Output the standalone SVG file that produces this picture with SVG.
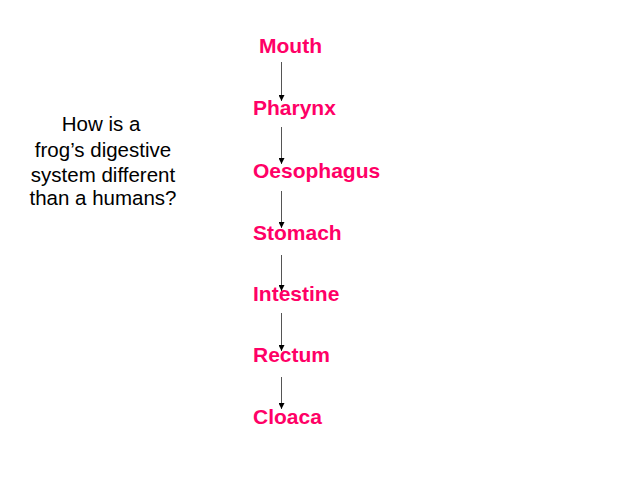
<svg xmlns="http://www.w3.org/2000/svg" width="638" height="478" viewBox="0 0 638 478">
<style>
.s{font-family:"Liberation Sans",Arial,sans-serif;font-weight:bold;font-size:21px;fill:#ff0066}
.q{font-family:"Liberation Sans",Arial,sans-serif;font-size:20.5px;fill:#000;text-anchor:middle}
.c{stroke:#555;stroke-width:1;fill:none;marker-end:url(#ah)}
</style>
<defs>
<marker id="ah" viewBox="0 0 8 8" refX="8" refY="4" markerWidth="6" markerHeight="6" markerUnits="userSpaceOnUse" orient="auto">
<path d="M0,0 L8,4 L0,8 z" fill="#000"/>
</marker>
</defs>
<rect width="638" height="478" fill="#fff"/>
<g id="question">
<text class="q" x="101" y="131">How is a</text>
<text class="q" x="103" y="157">frog’s digestive</text>
<text class="q" x="103" y="182">system different</text>
<text class="q" x="103" y="205">than a humans?</text>
</g>
<g id="mouth"><text class="s" x="259" y="53">Mouth</text></g>
<g id="pharynx"><text class="s" x="253" y="115">Pharynx</text></g>
<g id="oesophagus"><text class="s" x="253" y="178">Oesophagus</text></g>
<g id="stomach"><text class="s" x="253" y="240">Stomach</text></g>
<g id="intestine"><text class="s" x="253" y="301">Intestine</text></g>
<g id="rectum"><text class="s" x="253" y="362">Rectum</text></g>
<g id="cloaca"><text class="s" x="253" y="424">Cloaca</text></g>
<g id="connectors">
<line class="c" x1="281.5" y1="62" x2="281.5" y2="101"/>
<line class="c" x1="281.5" y1="127" x2="281.5" y2="164"/>
<line class="c" x1="281.5" y1="191" x2="281.5" y2="228"/>
<line class="c" x1="281.5" y1="255" x2="281.5" y2="291"/>
<line class="c" x1="281.5" y1="313" x2="281.5" y2="351"/>
<line class="c" x1="281.5" y1="377" x2="281.5" y2="409"/>
</g>
</svg>
